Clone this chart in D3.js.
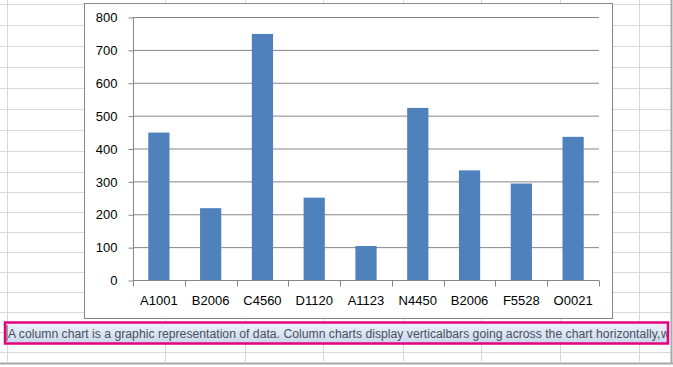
<!DOCTYPE html>
<html>
<head>
<meta charset="utf-8">
<script src="https://cdn.jsdelivr.net/npm/d3@7"></script>
<style>
	body { margin: 0; background: #fff; }
	svg { display: block; }
	text { font-family: "Liberation Sans", Arial, sans-serif; }
</style>
</head>
<body>
<div id="container"></div>
<script>
// 1. Data
const categories = ["A1001", "B2006", "C4560", "D1120", "A1123", "N4450", "B2006", "F5528", "O0021"]
const values = [450, 220, 750, 252, 105, 525, 335, 295, 437]
const yTicks = [0, 100, 200, 300, 400, 500, 600, 700, 800]
const caption = "A column chart is a graphic representation of data. Column charts display verticalbars going across the chart horizontally,"
const captionTail = " with"

// 2. Dimensions
const width = 673
const height = 367
const frame = { x: 84.5, y: 3.5, width: 528, height: 315 }
const plot = { left: 133, right: 599, top: 17.5, bottom: 280.5 }

// 3. Canvas
const svg = d3.select("#container")
	.append("svg")
	.attr("width", width)
	.attr("height", height)

const defs = svg.append("defs")

const grad = defs.append("linearGradient")
	.attr("id", "captionFill")
	.attr("x1", 0).attr("y1", 0)
	.attr("x2", 0).attr("y2", 1)
grad.append("stop").attr("offset", "0%").attr("stop-color", "#eef3fb")
grad.append("stop").attr("offset", "100%").attr("stop-color", "#c9d8ec")

defs.append("clipPath")
	.attr("id", "captionClip")
	.append("rect")
	.attr("x", 6).attr("y", 323)
	.attr("width", 661).attr("height", 20)

// spreadsheet background grid
const sheetRowsTop = d3.range(4, 173, 21)
const sheetRowsBottom = d3.range(192, 362, 20)
const sheetCols = [7.5, 165.5, 245.5, 323.5, 403.5, 481.5, 560.5, 639.5]

const sheet = svg.append("g")
sheet.selectAll(".row")
	.data(sheetRowsTop.concat(sheetRowsBottom))
	.join("line")
	.attr("class", "row")
	.attr("x1", 0).attr("x2", 671)
	.attr("y1", d => d + 0.5).attr("y2", d => d + 0.5)
	.attr("stroke", "#d9d9d9")
sheet.selectAll(".col")
	.data(sheetCols)
	.join("line")
	.attr("class", "col")
	.attr("x1", d => d).attr("x2", d => d)
	.attr("y1", 0).attr("y2", 362)
	.attr("stroke", "#d9d9d9")

// window shadow edges
sheet.append("line")
	.attr("x1", 0).attr("x2", 673)
	.attr("y1", 363.5).attr("y2", 363.5)
	.attr("stroke", "#a8a8a8").attr("stroke-width", 2)
sheet.append("line")
	.attr("x1", 671.5).attr("x2", 671.5)
	.attr("y1", 0).attr("y2", 364)
	.attr("stroke", "#a8a8a8").attr("stroke-width", 2)

// chart frame
svg.append("rect")
	.attr("x", frame.x).attr("y", frame.y)
	.attr("width", frame.width).attr("height", frame.height)
	.attr("fill", "#fff")
	.attr("stroke", "#868686")

// 4. Scales
const x = d3.scaleBand()
	.domain(d3.range(categories.length))
	.range([plot.left, plot.right])
	.paddingInner(0.59)
	.paddingOuter(0.295)

const y = d3.scaleLinear()
	.domain([0, 800])
	.range([plot.bottom, plot.top])

const bounds = svg.append("g")

// gridlines
bounds.selectAll(".grid")
	.data(yTicks.slice(1))
	.join("line")
	.attr("class", "grid")
	.attr("x1", plot.left).attr("x2", plot.right)
	.attr("y1", d => y(d)).attr("y2", d => y(d))
	.attr("stroke", "#868686")

// 5. Bars
bounds.selectAll(".bar")
	.data(values)
	.join("rect")
	.attr("class", "bar")
	.attr("x", (d, i) => x(i))
	.attr("width", x.bandwidth())
	.attr("y", d => y(d))
	.attr("height", d => y(0) - y(d))
	.attr("fill", "#4f81bd")

// 6. Axes
const yAxis = d3.axisLeft(y)
	.tickValues(yTicks)
	.tickSize(5)
	.tickPadding(11)
	.tickFormat(d3.format("d"))

svg.append("g")
	.attr("transform", `translate(${plot.left + 0.5},0)`)
	.call(yAxis)
	.call(g => g.select(".domain").attr("stroke", "#868686").attr("d", `M0,${plot.top}V${plot.bottom}`))
	.call(g => g.selectAll(".tick line").attr("stroke", "#868686"))
	.call(g => g.selectAll(".tick text")
		.attr("fill", "#000")
		.style("font-size", "13px")
		.style("font-family", "'Liberation Sans', Arial, sans-serif"))

const boundaries = d3.range(categories.length + 1)
	.map(i => plot.left + i * x.step())

const xAxisG = svg.append("g")
xAxisG.append("line")
	.attr("x1", plot.left).attr("x2", plot.right)
	.attr("y1", plot.bottom).attr("y2", plot.bottom)
	.attr("stroke", "#868686")
xAxisG.selectAll(".xtick")
	.data(boundaries)
	.join("line")
	.attr("class", "xtick")
	.attr("x1", d => Math.round(d) + 0.5).attr("x2", d => Math.round(d) + 0.5)
	.attr("y1", plot.bottom).attr("y2", plot.bottom + 6)
	.attr("stroke", "#868686")
xAxisG.selectAll(".xlabel")
	.data(categories)
	.join("text")
	.attr("class", "xlabel")
	.attr("x", (d, i) => x(i) + x.bandwidth() / 2)
	.attr("y", 304.5)
	.attr("text-anchor", "middle")
	.attr("font-size", 13)
	.attr("fill", "#000")
	.text(d => d)

// 7. Caption box
const cap = svg.append("g")
cap.append("rect")
	.attr("x", 5).attr("y", 322.5)
	.attr("width", 663).attr("height", 21)
	.attr("fill", "url(#captionFill)")
	.attr("stroke", "#e5007d")
	.attr("stroke-width", 2.5)

const capText = cap.append("g").attr("clip-path", "url(#captionClip)")
capText.append("line")
	.attr("x1", 7).attr("x2", 7)
	.attr("y1", 325).attr("y2", 341)
	.attr("stroke", "#555")

const captionWidth = 653
const main = capText.append("text")
	.attr("x", 8)
	.attr("y", 337.5)
	.attr("font-size", 12)
	.attr("fill", "#4a4f5a")
	.text(caption)

// size the caption so it fills the box like the original
const fitted = 12 * captionWidth / main.node().getComputedTextLength()
main.attr("font-size", fitted)

capText.append("text")
	.attr("x", 8 + captionWidth)
	.attr("y", 337.5)
	.attr("font-size", fitted)
	.attr("fill", "#4a4f5a")
	.text(captionTail)
</script>
</body>
</html>
